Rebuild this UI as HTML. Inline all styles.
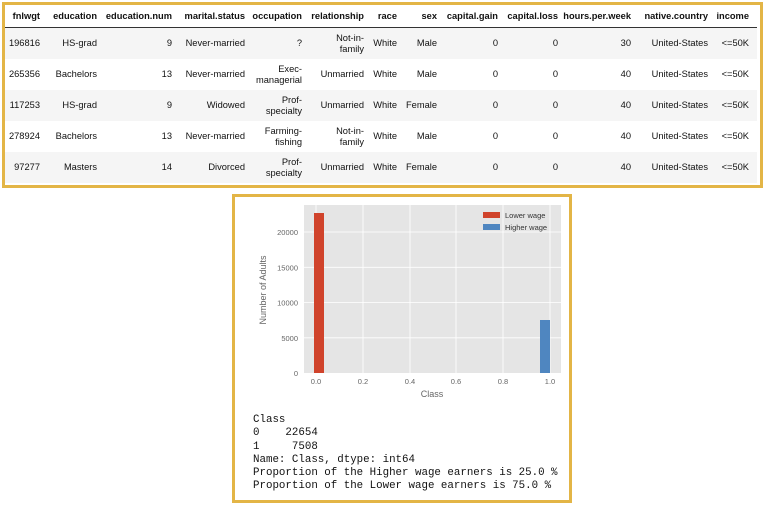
<!DOCTYPE html>
<html><head><meta charset="utf-8"><style>
body{margin:0;width:768px;height:505px;background:#fff;position:relative;overflow:hidden;font-family:"Liberation Sans",sans-serif;}
#tb{position:absolute;left:2px;top:2px;width:755px;height:180px;border:3px solid #e3b546;}
table{position:absolute;left:5px;top:5px;border-collapse:collapse;table-layout:fixed;width:752px;font-size:9.3px;color:#111;}
td,th{text-align:right;padding:0;white-space:nowrap;line-height:11px;overflow:visible;}
th{height:22px;font-weight:bold;border-bottom:1px solid #333;}
td{height:31px;}
tr.o td{background:#f5f5f5;}
#cb{position:absolute;left:232px;top:194px;width:334px;height:303px;border:3px solid #e3b546;}
pre{position:absolute;left:253px;top:414px;margin:0;font-family:"Liberation Mono",monospace;font-size:10.8px;line-height:13.3px;color:#111;}
</style></head><body>
<table>
<colgroup><col style="width:35px"><col style="width:57px"><col style="width:75px"><col style="width:73px"><col style="width:57px"><col style="width:62px"><col style="width:33px"><col style="width:40px"><col style="width:61px"><col style="width:60px"><col style="width:73px"><col style="width:77px"><col style="width:41px"><col style="width:8px"></colgroup>
<tr><th>fnlwgt</th><th>education</th><th>education.num</th><th>marital.status</th><th>occupation</th><th>relationship</th><th>race</th><th>sex</th><th>capital.gain</th><th>capital.loss</th><th>hours.per.week</th><th>native.country</th><th>income</th><th></th></tr>
<tr class="o"><td>196816</td><td>HS-grad</td><td>9</td><td>Never-married</td><td>?</td><td>Not-in-<br>family</td><td>White</td><td>Male</td><td>0</td><td>0</td><td>30</td><td>United-States</td><td>&lt;=50K</td><td></td></tr>
<tr><td>265356</td><td>Bachelors</td><td>13</td><td>Never-married</td><td>Exec-<br>managerial</td><td>Unmarried</td><td>White</td><td>Male</td><td>0</td><td>0</td><td>40</td><td>United-States</td><td>&lt;=50K</td><td></td></tr>
<tr class="o"><td>117253</td><td>HS-grad</td><td>9</td><td>Widowed</td><td>Prof-<br>specialty</td><td>Unmarried</td><td>White</td><td>Female</td><td>0</td><td>0</td><td>40</td><td>United-States</td><td>&lt;=50K</td><td></td></tr>
<tr><td>278924</td><td>Bachelors</td><td>13</td><td>Never-married</td><td>Farming-<br>fishing</td><td>Not-in-<br>family</td><td>White</td><td>Male</td><td>0</td><td>0</td><td>40</td><td>United-States</td><td>&lt;=50K</td><td></td></tr>
<tr class="o"><td>97277</td><td>Masters</td><td>14</td><td>Divorced</td><td>Prof-<br>specialty</td><td>Unmarried</td><td>White</td><td>Female</td><td>0</td><td>0</td><td>40</td><td>United-States</td><td>&lt;=50K</td><td></td></tr>
</table>
<div id="tb"></div>
<div id="cb"></div>
<svg style="position:absolute;left:0;top:0" width="768" height="505" font-family="Liberation Sans, sans-serif">
<rect x="304" y="205" width="257" height="168" fill="#e5e5e5"/>
<g stroke="#fff" stroke-width="0.8">
<line x1="304" x2="561" y1="337.8" y2="337.8"/><line x1="304" x2="561" y1="302.5" y2="302.5"/><line x1="304" x2="561" y1="267.3" y2="267.3"/><line x1="304" x2="561" y1="232" y2="232"/>
<line x1="316" x2="316" y1="205" y2="373"/><line x1="363" x2="363" y1="205" y2="373"/><line x1="410" x2="410" y1="205" y2="373"/><line x1="456" x2="456" y1="205" y2="373"/><line x1="503" x2="503" y1="205" y2="373"/><line x1="550" x2="550" y1="205" y2="373"/>
</g>
<rect x="314" y="213" width="10" height="160" fill="#d0432b"/>
<rect x="540" y="320" width="10" height="53" fill="#4f86c0"/>
<g font-size="7.5" fill="#666" text-anchor="end">
<text x="298" y="376">0</text><text x="298" y="340.8">5000</text><text x="298" y="305.5">10000</text><text x="298" y="270.3">15000</text><text x="298" y="235">20000</text>
</g>
<g font-size="7.5" fill="#666" text-anchor="middle">
<text x="316" y="384">0.0</text><text x="363" y="384">0.2</text><text x="410" y="384">0.4</text><text x="456" y="384">0.6</text><text x="503" y="384">0.8</text><text x="550" y="384">1.0</text>
</g>
<text x="432" y="397" font-size="9" fill="#666" text-anchor="middle">Class</text>
<text transform="translate(266,290) rotate(-90)" font-size="9" fill="#666" text-anchor="middle">Number of Adults</text>
<rect x="483" y="212" width="17" height="6" fill="#d0432b"/><text x="505" y="218" font-size="7.5" fill="#333">Lower wage</text>
<rect x="483" y="224" width="17" height="6" fill="#4f86c0"/><text x="505" y="230" font-size="7.5" fill="#333">Higher wage</text>
</svg>
<pre>Class
0    22654
1     7508
Name: Class, dtype: int64
Proportion of the Higher wage earners is 25.0 %
Proportion of the Lower wage earners is 75.0 %</pre>
</body></html>
